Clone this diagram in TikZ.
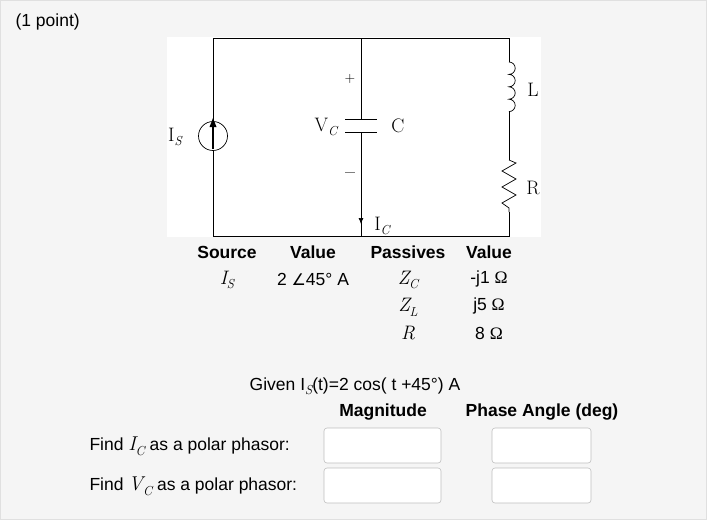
\documentclass[tikz,border=0pt]{standalone}
\usepackage{fontspec}
\setsansfont{Liberation Sans}
\newfontfamily\omf{Liberation Serif}
\newfontfamily\dvs{DejaVu Sans}
\usetikzlibrary{arrows.meta}
\newcommand{\mysub}[2]{#1\raisebox{-0.25em}{\fontsize{13}{14}\selectfont #2}}
\newcommand{\itsub}[2]{\textit{#1}\kern-0.12em\raisebox{-0.25em}{\fontsize{13}{14}\selectfont\itshape #2}}
\begin{document}
\begin{tikzpicture}[x=1pt,y=-1pt,
  wire/.style={line width=0.7pt},
  sf/.style={font=\sffamily\fontsize{17.5}{20}\selectfont},
  sfb/.style={font=\sffamily\bfseries\fontsize{17.5}{20}\selectfont},
  rm/.style={font=\rmfamily\fontsize{19.5}{21}\selectfont},
  ibox/.style={draw=black!25,fill=white,rounded corners=3pt,line width=0.6pt}]
\fill[black!4] (0,0) rectangle (707,520);
\draw[black!12] (0.5,0.5) rectangle (706.5,519.5);
\fill[white] (167,37) rectangle (541,237);
\node[sf,anchor=west] (pt) at (12,22) {(1 point)};
% circuit
\coordinate (tl) at (213,38); \coordinate (tm) at (361,38); \coordinate (tr) at (509,38);
\coordinate (bl) at (213,236); \coordinate (bm) at (361,236); \coordinate (br) at (509,236);
\node[draw,circle,minimum size=29pt,inner sep=0,wire] (src) at (213,136) {};
\draw[wire] (tl) -- (tr) -- (509,62);
\draw[wire] (bl) -- (br) -- (509,212);
\draw[wire] (tl) -- (src.north) (src.south) -- (bl);
\draw[line width=1.2pt] (213,149) -- (213,126);
\fill (213,118) -- (209.5,127) -- (216.5,127) -- cycle;
\node[rm] (is) at (175,137) {\mysub{I}{\itshape S}};
\coordinate (c1) at (361,119); \coordinate (c2) at (361,132);
\draw[wire] (tm) -- (c1) (c2) -- (bm);
\draw[line width=1pt] (345,119) -- (377,119) (345,132) -- (377,132);
\node[rm] (vc) at (326,127) {\mysub{V}{\itshape C}};
\node[rm] (cl) at (398,126) {C};
\node[font=\rmfamily\fontsize{14}{14}\selectfont] (plus) at (350,79) {+};
\draw[black!50,line width=0.8pt] (345,172) -- (355,172);
\draw[-{Latex[length=6pt,width=5pt]},wire] (361,206) -- (361,224);
\node[rm] (ic) at (382,226) {\mysub{I}{\itshape C}};
% inductor
\draw[wire] (509,62) arc(-90:90:6.2) arc(-90:90:6.2) arc(-90:90:6.2) arc(-90:90:6.2);
\draw[wire] (509,111.6) -- (509,160);
\draw[wire] (509,160) -- (516,163) -- (502,171) -- (516,179) -- (502,187) -- (516,195) -- (502,203) -- (509,208) -- (509,212);
\node[rm] (ll) at (533,90) {L};
\node[rm] (rl) at (533,188) {R};
% table
\node[sfb] (h1) at (227,252) {Source};
\node[sfb] (h2) at (313,252) {Value};
\node[sfb] (h3) at (408,252) {Passives};
\node[sfb] (h4) at (489,252) {Value};
\node[rm] (r1a) at (227,280) {\itsub{I}{S}};
\node[sf] (r1b) at (313,279) {2 {\dvs\fontsize{16}{16}\selectfont ∠}45° A};
\node[rm] (r1c) at (408,280) {\itsub{Z}{C}};
\node[sf] (r1d) at (489,279) {-j1 {\omf Ω}};
\node[rm] (r2c) at (408,307) {\itsub{Z}{L}};
\node[sf] (r2d) at (489,306) {j5 {\omf Ω}};
\node[rm] (r3c) at (408,333) {\textit{R}};
\node[sf] (r3d) at (489,333) {8 {\omf Ω}};
\node[sf] (given) at (355,386) {Given I\raisebox{-0.25em}{\rmfamily\itshape\fontsize{13}{14}\selectfont S}(t)=2 cos( t +45°) A};
\node[sfb] (mag) at (383,412) {Magnitude};
\node[sfb] (pha) at (542,412) {Phase Angle (deg)};
\node[sf,anchor=west] (f1) at (86,446) {Find {\rmfamily\fontsize{20}{20}\selectfont\itsub{I}{C}} as a polar phasor:};
\node[sf,anchor=west] (f2) at (86,486) {Find {\rmfamily\fontsize{20}{20}\selectfont\itsub{V}{C}} as a polar phasor:};
\draw[ibox] (324,428) rectangle (441,463);
\draw[ibox] (492,428) rectangle (591,463);
\draw[ibox] (324,468) rectangle (441,503);
\draw[ibox] (492,468) rectangle (591,503);
\end{tikzpicture}
\end{document}
